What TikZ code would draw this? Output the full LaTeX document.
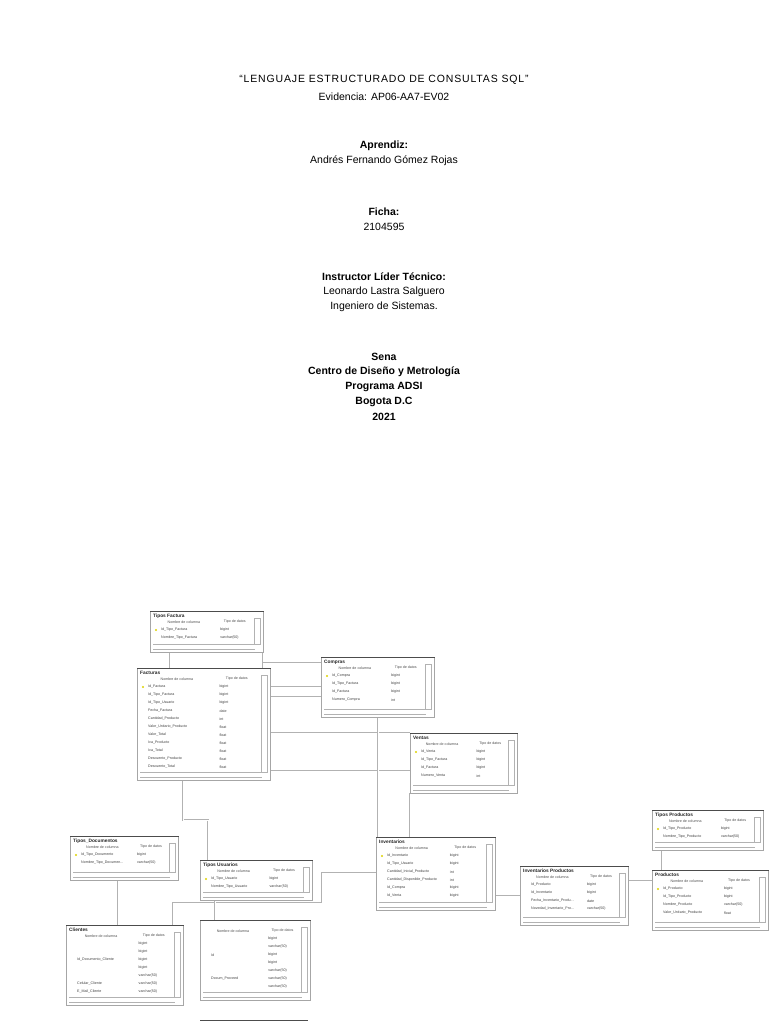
\documentclass[tikz,border=0pt]{standalone}
\usepackage{fontspec}
\setmainfont{Liberation Sans}
\usetikzlibrary{calc}
\tikzset{
  tbl/.style={draw=gray!70, fill=white, inner sep=0pt, anchor=north west, line width=0.5pt},
  txt/.style={inner sep=0pt, anchor=west, font=\fontsize{3.6}{4}\selectfont, text=black!75},
  ttl/.style={inner sep=0pt, anchor=west, font=\fontsize{4.8}{5}\selectfont\bfseries, text=black!85},
  hdr/.style={inner sep=0pt, font=\fontsize{3.6}{4}\selectfont, text=black!70},
  conn/.style={draw=gray!60, double=white, double distance=0.9pt, line width=0.45pt},
  head/.style={font=\fontsize{10.5}{12}\selectfont, inner sep=0pt},
  headb/.style={font=\fontsize{10.5}{12}\selectfont\bfseries, inner sep=0pt}
}
\newcommand\dd{.\kern0.1pt.\kern0.1pt.}
% #1 name, #2 x, #3 y, #4 w, #5 h, #6 title, #7 rows k/name/type
\newcommand\sqltab[7]{%
  \node[tbl, minimum width=#4pt, minimum height=#5pt] (#1) at (#2,#3) {};
  \draw[black!70, line width=1pt] (#1.north west) -- (#1.north east);
  \node[ttl] at ($(#1.north west)+(3,5)$) {#6};
  \node[hdr] at ($(#1.north west)+(0.3*#4,11)$) {Nombre de columna};
  \node[hdr] at ($(#1.north west)+(0.75*#4,11)$) {Tipo de datos};
  \draw[gray!60, line width=0.3pt] ($(#1.north east)+(-9,7)$) rectangle ($(#1.south east)+(-3,-8)$);
  \draw[gray!60, line width=0.3pt] ($(#1.south west)+(3,-8)$) -- ($(#1.south east)+(-9,-8)$);
  \draw[gray!60, line width=0.3pt] ($(#1.south west)+(3,-3)$) -- ($(#1.south east)+(-9,-3)$);
  \foreach \kk/\nn/\ty [count=\i] in {#7}{
    \if\kk k\fill[yellow!70!olive] ($(#1.north west)+(6,11+\i*8)$) circle (1.2pt);\fi
    \node[txt] at ($(#1.north west)+(11,11+\i*8)$) {\nn};
    \node[txt] at ($(#1.north west)+(0.62*#4,11+\i*8)$) {\ty};
  }
}
\begin{document}
\begin{tikzpicture}[x=1pt,y=-1pt]
\useasboundingbox (0,0) rectangle (768,1024);
\fill[white] (0,0) rectangle (768,1024);
% header text
\node[head] (t1) at (384,80) {\addfontfeature{LetterSpace=8}“LENGUAJE ESTRUCTURADO DE CONSULTAS SQL”};
\node[head] (t2) at (384,97) {Evidencia: AP06-AA7-EV02};
\node[headb] (t3) at (384,146) {Aprendiz:};
\node[head] (t4) at (384,161) {Andrés Fernando Gómez Rojas};
\node[headb] (t5) at (384,212) {Ficha:};
\node[head] (t6) at (384,227) {2104595};
\node[headb] (t7) at (384,277) {Instructor Líder Técnico:};
\node[head] (t8) at (384,292) {Leonardo Lastra Salguero};
\node[head] (t9) at (384,307) {Ingeniero de Sistemas.};
\node[headb] (t10) at (384,357) {Sena};
\node[headb] (t11) at (384,372) {Centro de Diseño y Metrología};
\node[headb] (t12) at (384,387) {Programa ADSI};
\node[headb] (t13) at (384,402) {Bogota D.C};
\node[headb] (t14) at (384,417) {2021};
% connectors (drawn first)
\draw[conn] (170,652) -- (170,668);
\draw[conn] (263,652) -- (263,733) -- (410,733);
\draw[conn] (263,663) -- (321,663);
\draw[conn] (270,687) -- (321,687);
\draw[conn] (270,697) -- (321,697);
\draw[conn] (270,771) -- (410,771);
\draw[conn] (378,717) -- (378,837);
\draw[conn] (410,793) -- (410,837);
\draw[conn] (183,780) -- (183,820) -- (208,820) -- (208,860);
\draw[conn] (118,880) -- (118,925);
\draw[conn] (173,925) -- (173,903) -- (322,903) -- (322,873) -- (376,873);
\draw[conn] (215,900) -- (215,920);
\draw[conn] (495,896) -- (520,896);
\draw[conn] (628,881) -- (652,881);
\draw[conn] (662,850) -- (662,870);
% tables
\sqltab{tf}{150}{611}{113}{41}{Tipos Factura}{k/Id\_Tipo\_Factura/bigint, n/Nombre\_Tipo\_Factura/varchar(50)}
\sqltab{fa}{137}{668}{133}{112}{Facturas}{k/Id\_Factura/bigint, n/Id\_Tipo\_Factura/bigint, n/Id\_Tipo\_Usuario/bigint, n/Fecha\_Factura/date, n/Cantidad\_Producto/int, n/Valor\_Unitario\_Producto/float, n/Valor\_Total/float, n/Iva\_Producto/float, n/Iva\_Total/float, n/Descuento\_Producto/float, n/Descuento\_Total/float}
\sqltab{co}{321}{657}{113}{60}{Compras}{k/Id\_Compra/bigint, n/Id\_Tipo\_Factura/bigint, n/Id\_Factura/bigint, n/Numero\_Compra/int}
\sqltab{ve}{410}{733}{107}{60}{Ventas}{k/Id\_Venta/bigint, n/Id\_Tipo\_Factura/bigint, n/Id\_Factura/bigint, n/Numero\_Venta/int}
\sqltab{td}{70}{836}{108}{44}{Tipos\_Documentos}{k/Id\_Tipo\_Documento/bigint, n/Nombre\_Tipo\_Documen\dd/varchar(50)}
\sqltab{tu}{200}{860}{112}{40}{Tipos Usuarios}{k/Id\_Tipo\_Usuario/bigint, n/Nombre\_Tipo\_Usuario/varchar(50)}
\sqltab{in}{376}{837}{119}{73}{Inventarios}{k/Id\_Inventario/bigint, n/Id\_Tipo\_Usuario/bigint, n/Cantidad\_Inicial\_Producto/int, n/Cantidad\_Disponible\_Producto/int, n/Id\_Compra/bigint, n/Id\_Venta/bigint}
\sqltab{ip}{520}{866}{108}{59}{Inventarios Productos}{n/Id\_Producto/bigint, n/Id\_Inventario/bigint, n/Fecha\_Inventario\_Produ\dd/date, n/Novedad\_Inventario\_Pro\dd/varchar(50)}
\sqltab{tp}{652}{810}{111}{40}{Tipos Productos}{k/Id\_Tipo\_Producto/bigint, n/Nombre\_Tipo\_Producto/varchar(50)}
\sqltab{pr}{652}{870}{116}{60}{Productos}{k/Id\_Producto/bigint, n/Id\_Tipo\_Producto/bigint, n/Nombre\_Producto/varchar(50), n/Valor\_Unitario\_Producto/float}
\sqltab{cl}{66}{925}{117}{80}{Clientes}{n//bigint, n//bigint, n/Id\_Documento\_Cliente/bigint, n//bigint, n//varchar(50), n/Celular\_Cliente/varchar(50), n/E\_Mail\_Cliente/varchar(50)}
\sqltab{ux}{200}{920}{110}{80}{}{n//bigint, n//varchar(50), n/Id/bigint, n//bigint, n//varchar(50), n/Docum\_Proveed/varchar(50), n//varchar(50)}
\draw[black!70, line width=0.6pt] (200,1020) -- (308,1020);
\end{tikzpicture}
\end{document}
